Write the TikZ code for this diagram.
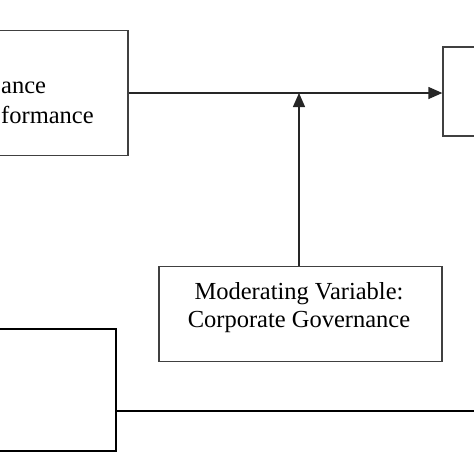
\documentclass[tikz,border=0pt]{standalone}
\usepackage{fontspec}
\setmainfont{Liberation Serif}
\usetikzlibrary{arrows.meta}
\begin{document}
\begin{tikzpicture}[x=1pt,y=-1pt,
  box/.style={draw=black!75,line width=1.3pt,rectangle,inner sep=0pt},
  darkbox/.style={draw=black,line width=1.6pt,rectangle,inner sep=0pt},
  txt/.style={font=\fontsize{24.5}{30}\selectfont,inner sep=0pt},
  link/.style={draw=black!85,line width=1.3pt},
  arr/.style={link,-{Triangle[length=14pt,width=12pt]}}]
\useasboundingbox (0,0) rectangle (474,474);
\node[box,minimum width=168pt,minimum height=125pt] (tl) at (44,93) {};
\node[txt,align=left,anchor=west] (tltext) at (1,103) {ance\\formance};
\node[box,minimum width=60pt,minimum height=89pt] (tr) at (473,91.5) {};
\node[box,minimum width=283pt,minimum height=95pt] (mod) at (300.5,314) {};
\node[txt,align=center,font=\fontsize{24.5}{28}\selectfont] (modtext) at (299,308) {Moderating Variable:\\Corporate Governance};
\node[darkbox,minimum width=156pt,minimum height=122pt] (bl) at (38,390) {};
\coordinate (lineend) at (490,411);
\draw[arr] (tl.east) -- (tl.east -| tr.west);
\draw[arr] (mod.north -| 299,0) -- (299,93);
\draw[draw=black,line width=1.6pt] (lineend -| bl.east) -- (lineend);
\end{tikzpicture}
\end{document}
